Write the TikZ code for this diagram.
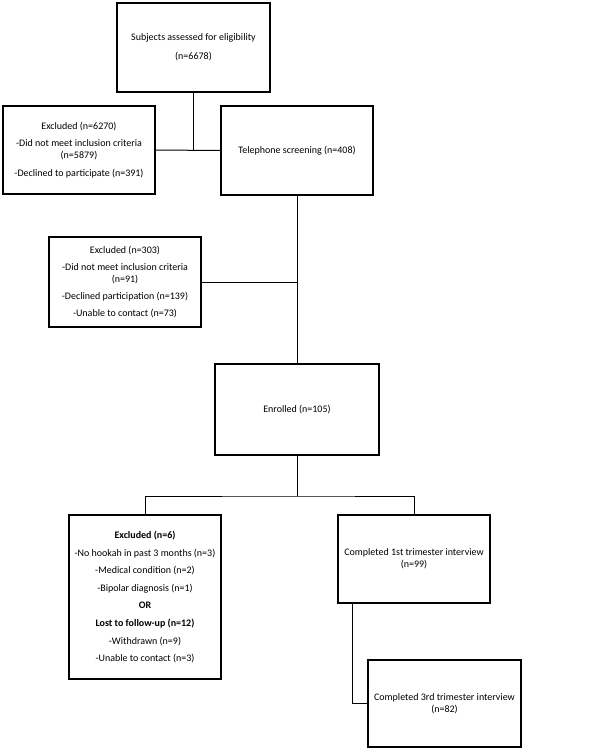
\documentclass[tikz,border=0pt]{standalone}
\usepackage{fontspec}
\setmainfont{Carlito}
\begin{document}
\begin{tikzpicture}[x=1pt,y=-1pt,
  box/.style={draw=black,line width=1.6pt,align=center,inner sep=0pt,
    font=\fontsize{10}{12.2}\selectfont,minimum width=152pt},
  conn/.style={draw=black,line width=1pt}]
\useasboundingbox (0,0) rectangle (611,750);
\node[box,minimum height=89pt,minimum width=153pt] (subj) at (193.5,47.5) {Subjects assessed for eligibility\\[6.5pt](n=6678)};
\node[box,minimum height=88pt] (exa) at (79,150) {Excluded (n=6270)\\[5pt]-Did not meet inclusion criteria\\(n=5879)\\[5pt]-Declined to participate (n=391)};
\node[box,minimum height=89pt] (tel) at (297,150.5) {Telephone screening (n=408)};
\node[box,minimum height=90pt] (exb) at (125,282) {Excluded (n=303)\\[5pt]-Did not meet inclusion criteria\\(n=91)\\[5pt]-Declined participation (n=139)\\[5pt]-Unable to contact (n=73)};
\node[box,minimum height=91pt,minimum width=164pt] (enr) at (297,409.5) {Enrolled (n=105)};
\node[box,minimum height=164pt] (exc) at (145,597) {\textbf{Excluded (n=6)}\\[5.4pt]-No hookah in past 3 months (n=3)\\[5.4pt]-Medical condition (n=2)\\[5.4pt]-Bipolar diagnosis (n=1)\\[5.4pt]\textbf{OR}\\[5.4pt]\textbf{Lost to follow-up (n=12)}\\[5.4pt]-Withdrawn (n=9)\\[5.4pt]-Unable to contact (n=3)};
\node[box,minimum height=88pt] (c1) at (414,559) {Completed 1st trimester interview\\(n=99)};
\node[box,minimum height=87pt,minimum width=153pt] (c3) at (444.5,703.5) {Completed 3rd trimester interview\\(n=82)};
\coordinate (br) at (297,496);
\draw[conn] (subj.south) -- (subj.south |- exa.east);
\draw[conn] (exa.east) -- (tel.west);
\draw[conn] (tel.south) -- (enr.north);
\draw[conn] (exb.east) -- (tel.south |- exb.east);
\draw[conn] (enr.south) -- (br);
\draw[conn] (exc.north) |- (br) -| (c1.north);
\draw[conn] ([xshift=15pt]c1.south west) |- (c3.west);
\end{tikzpicture}
\end{document}
